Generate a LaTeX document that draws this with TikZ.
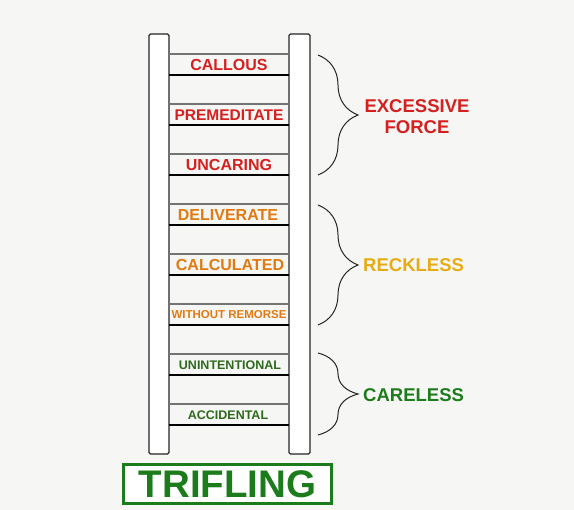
\documentclass[tikz,border=0pt]{standalone}
\usepackage{fontspec}
\setmainfont{Liberation Sans}
\usetikzlibrary{decorations.pathreplacing}
\definecolor{bgcol}{HTML}{F6F6F4}
\definecolor{redtxt}{HTML}{D52020}
\definecolor{orangetxt}{HTML}{E07A12}
\definecolor{goldtxt}{HTML}{E6AC14}
\definecolor{greentxt}{HTML}{1C7C1C}
\definecolor{darkgreen}{HTML}{2E6A1E}
\tikzset{
  rail/.style={draw=black!85, fill=white, line width=1.4pt, rounded corners=1.5pt},
  rungtop/.style={draw=black!55, line width=1.8pt},
  rungbot/.style={draw=black, line width=1.8pt},
  rungtxt/.style={font=\fontsize{16}{16}\selectfont\bfseries, inner sep=0pt},
  grouptxt/.style={font=\fontsize{18.5}{21}\selectfont\bfseries, inner sep=0pt, align=center},
  grpbrace/.style={draw=black!85, line width=1pt,
    decorate, decoration={brace, amplitude=40pt, aspect=0.5}},
  basebox/.style={draw=greentxt, line width=3pt, fill=white,
    minimum width=208pt, minimum height=39pt, inner sep=0pt,
    text=greentxt, font=\fontsize{38.5}{40}\selectfont\bfseries}
}
\newcommand{\rung}[1]{%
  \draw[rungtop] (169,#1) -- (289,#1);
  \draw[rungbot] (169,#1+21) -- (289,#1+21);}

\begin{document}
\begin{tikzpicture}[x=1pt, y=-1pt]
  \fill[bgcol] (0,0) rectangle (574,510);
  \useasboundingbox (0,0) rectangle (574,510);
  % ladder rails
  \draw[rail] (149,34) rectangle (169,454);
  \draw[rail] (289,34) rectangle (310,454);
  % rungs
  \rung{54}
  \rung{104}
  \rung{154}
  \rung{204}
  \rung{254}
  \rung{304}
  \rung{354}
  \rung{404}
  \node[rungtxt, text=redtxt] (callous) at (229,65) {CALLOUS};
  \node[rungtxt, text=redtxt, font=\fontsize{15.5}{16}\selectfont\bfseries] (premed) at (229,115) {PREMEDITATE};
  \node[rungtxt, text=redtxt] (uncaring) at (229,165) {UNCARING};
  \node[rungtxt, text=orangetxt] (deliv) at (228,215) {DELIVERATE};
  \node[rungtxt, text=orangetxt] (calc) at (230,265) {CALCULATED};
  \node[rungtxt, text=orangetxt, font=\fontsize{11.5}{12}\selectfont\bfseries] (remorse) at (229,315) {WITHOUT REMORSE};
  \node[rungtxt, text=darkgreen, font=\fontsize{12.5}{13}\selectfont\bfseries] (unint) at (230,365) {UNINTENTIONAL};
  \node[rungtxt, text=darkgreen, font=\fontsize{12.5}{13}\selectfont\bfseries] (accid) at (228,415) {ACCIDENTAL};
  % braces and groups
  \coordinate (ex1) at (318,55);
  \coordinate (ex2) at (318,175);
  \coordinate (rk1) at (318,205);
  \coordinate (rk2) at (318,325);
  \coordinate (cl1) at (318,353);
  \coordinate (cl2) at (318,435);
  \draw[grpbrace] (ex1) -- (ex2);
  \draw[grpbrace] (rk1) -- (rk2);
  \draw[grpbrace] (cl1) -- (cl2);
  \node[grouptxt, text=redtxt] (excess) at (417,117) {EXCESSIVE\\FORCE};
  \node[grouptxt, text=goldtxt, anchor=west] (reckless) at (363,265) {RECKLESS};
  \node[grouptxt, text=greentxt, anchor=west] (careless) at (363,395) {CARELESS};
  % base
  \node[basebox] (trifling) at (227.5,484) {TRIFLING};
\end{tikzpicture}
\end{document}
